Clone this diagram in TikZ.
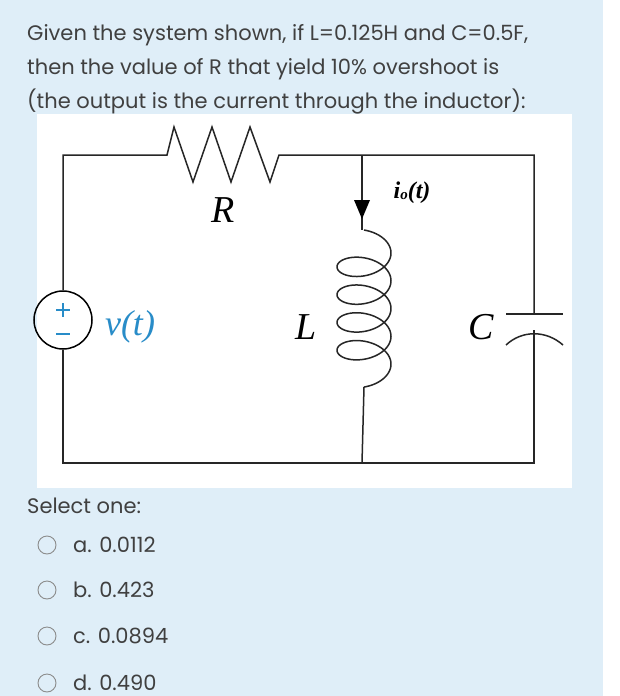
\documentclass[tikz,border=0pt]{standalone}
\usepackage{fontspec}
\setmainfont{Poppins}
\newfontfamily\serifc{Liberation Serif}
\definecolor{bgblue}{RGB}{223,238,248}
\definecolor{srcblue}{RGB}{40,140,200}
\begin{document}
\begin{tikzpicture}[x=1pt,y=-1pt,
  qtext/.style={anchor=base west,inner sep=0,text=black!75,font=\fontsize{21}{24}\selectfont},
  wire/.style={line width=1.5pt,black!85},
  lbl/.style={font=\serifc\itshape\fontsize{38}{40}\selectfont,inner sep=0},
  radio/.style={circle,draw=black!45,line width=0.9pt,minimum size=18pt,inner sep=0}]
\fill[white] (0,0) rectangle (619,696);
\fill[bgblue] (0,0) rectangle (603,696);
\fill[white] (37,114) rectangle (572,488);
\node[qtext] (q1) at (27,40) {Given the system shown, if L=0.125H and C=0.5F,};
\node[qtext] (q2) at (27,74) {then the value of R that yield 10\% overshoot is};
\node[qtext] (q3) at (27,108) {(the output is the current through the inductor):};
% circuit
\coordinate (tl) at (63,155); \coordinate (bl) at (63,463);
\coordinate (tm) at (362,155); \coordinate (bm) at (362,463);
\coordinate (tr) at (534,155); \coordinate (br) at (534,463);
\node[circle,draw,line width=1.5pt,minimum size=58pt,inner sep=0] (src) at (63,320) {};
\draw[srcblue,line width=1.5pt] (56,310) -- (70,310) (63,303) -- (63,317);
\draw[srcblue,line width=1.5pt] (56,334) -- (70,334);
\node[lbl,text=srcblue,font=\serifc\itshape\fontsize{36}{38}\selectfont] (vt) at (130,327) {v(t)};
\draw[wire] (src.north) -- (tl) -- (167,155) -- (174,127) -- (193,182) -- (212,127) -- (231,182) -- (250,127) -- (270,182) -- (279,155) -- (tm) -- (tr) -- (534,314);
\draw[wire] (src.south) -- (bl) -- (bm) -- (br) -- (534,330);
\draw[wire] (506,314) -- (563,314);
\draw[wire] (506,345) .. controls (522,330) and (546,330) .. (563,345);
\node[lbl] (R) at (223,210) {R};
\node[lbl] (L) at (306,327) {L};
\node[lbl] (C) at (481,327) {C};
\node[font=\serifc\bfseries\itshape\fontsize{24}{26}\selectfont,inner sep=0] (io) at (412,193) {i\raisebox{-1pt}{\fontsize{15}{15}\selectfont o}(t)};
\draw[wire] (tm) -- (362,230);
\fill (354,200) -- (370,200) -- (362,219) -- cycle;
\draw[wire,smooth,samples=300,domain=0:1620,variable=\t] plot ({364+27*sin(\t)},{246-16*cos(\t)+0.0772*\t});
\draw[wire] (364,387) -- (bm);
% answers
\node[qtext] (sel) at (27,513) {Select one:};
\node[radio] (ra) at (47,545) {}; \node[qtext] at (73,552) {a. 0.0112};
\node[radio] (rb) at (47,590) {}; \node[qtext] at (73,597) {b. 0.423};
\node[radio] (rc) at (47,636) {}; \node[qtext] at (73,643) {c. 0.0894};
\node[radio] (rd) at (47,683) {}; \node[qtext] at (73,690) {d. 0.490};
\end{tikzpicture}
\end{document}
